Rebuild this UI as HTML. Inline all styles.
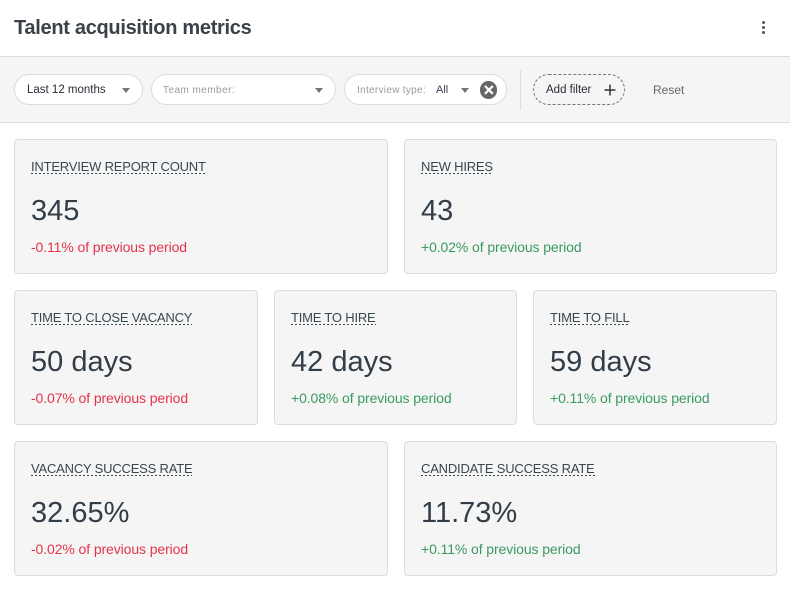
<!DOCTYPE html>
<html><head><meta charset="utf-8">
<style>
*{margin:0;padding:0;box-sizing:border-box}
html,body{width:790px;height:591px;background:#fff;overflow:hidden;font-family:"Liberation Sans",Arial,sans-serif}
.abs{position:absolute}
.hdr{position:absolute;left:0;top:0;width:790px;height:57px;background:#fff;border-bottom:1px solid #dcdcdc}
.title{position:absolute;left:14px;top:18px;font-size:20px;line-height:20px;font-weight:bold;color:#3a4149;letter-spacing:-0.3px;white-space:nowrap}
.dot{position:absolute;left:761.5px;width:3.5px;height:3.5px;border-radius:50%;background:#555}
.bar{position:absolute;left:0;top:57px;width:790px;height:66px;background:#f5f5f5;border-bottom:1px solid #dcdcdc}
.pill{position:absolute;top:74px;height:31px;border:1px solid #dcdcdc;border-radius:16px;background:#fff}
.ptxt{position:absolute;white-space:nowrap}
.caret{position:absolute;width:0;height:0;border-left:4.5px solid transparent;border-right:4.5px solid transparent;border-top:5px solid #757575}
.card{position:absolute;height:135px;background:#f5f5f5;border:1px solid #dcdcdc;border-radius:4px}
.lbl{position:absolute;left:16px;top:20px;font-size:13px;line-height:13px;color:#37474f;letter-spacing:-0.2px;white-space:nowrap}
.lbl span{display:inline-block;line-height:13px;padding-bottom:1px;background-image:linear-gradient(to right,#37474f 2px,transparent 2px);background-size:4px 1px;background-repeat:repeat-x;background-position:0 100%}
.val{position:absolute;left:16px;top:56.5px;font-size:29px;line-height:29px;color:#333d47;white-space:nowrap}
.chg{position:absolute;left:16px;top:100px;font-size:14px;line-height:14px;white-space:nowrap;letter-spacing:-0.1px}
.red{color:#e5334a}
.grn{color:#3a9a63}
</style></head><body>
<div class="hdr">
  <div class="title">Talent acquisition metrics</div>
  <div class="dot" style="top:20.5px"></div>
  <div class="dot" style="top:25.5px"></div>
  <div class="dot" style="top:30.5px"></div>
</div>
<div class="bar"></div>

<div class="pill" style="left:14px;width:129px"></div>
<div class="ptxt" style="left:27px;top:84.5px;font-size:11.5px;line-height:11.5px;color:#2b2b3a">Last 12 months</div>
<div class="caret" style="left:122px;top:88px"></div>

<div class="pill" style="left:151px;width:185px"></div>
<div class="ptxt" style="left:163px;top:85.5px;font-size:10px;line-height:10px;color:#9a9a9a;letter-spacing:0.45px">Team member:</div>
<div class="caret" style="left:315px;top:88px"></div>

<div class="pill" style="left:344px;width:163px"></div>
<div class="ptxt" style="left:357px;top:85.5px;font-size:10px;line-height:10px;color:#9a9a9a;letter-spacing:0.3px">Interview type:</div>
<div class="ptxt" style="left:436px;top:85px;font-size:11px;line-height:11px;color:#3a3f55">All</div>
<div class="caret" style="left:461px;top:88px"></div>
<div class="abs" style="left:479.5px;top:81px;width:17.5px;height:17.5px;border-radius:50%;background:#666"></div>
<svg class="abs" style="left:479.5px;top:81px" width="18" height="18" viewBox="0 0 18 18"><path d="M5.6 5.6 L12.2 12.2 M12.2 5.6 L5.6 12.2" stroke="#fff" stroke-width="2.2" stroke-linecap="round"/></svg>

<div class="abs" style="left:520px;top:70px;width:1px;height:40px;background:#dcdcdc"></div>

<div class="abs" style="left:533px;top:74px;width:92px;height:31px;border:1px dashed #777;border-radius:16px"></div>
<div class="ptxt" style="left:546px;top:84.5px;font-size:11.5px;line-height:11.5px;color:#2b2b3a">Add filter</div>
<svg class="abs" style="left:604px;top:84px" width="12" height="12" viewBox="0 0 12 12"><path d="M6 0.5V11.5M0.5 6H11.5" stroke="#333" stroke-width="1.5"/></svg>

<div class="ptxt" style="left:653px;top:84px;font-size:12px;line-height:12px;color:#666">Reset</div>

<!-- Row 1 -->
<div class="card" style="left:14px;top:139px;width:374px">
  <div class="lbl"><span>INTERVIEW REPORT COUNT</span></div>
  <div class="val">345</div>
  <div class="chg red">-0.11% of previous period</div>
</div>
<div class="card" style="left:404px;top:139px;width:373px">
  <div class="lbl"><span>NEW HIRES</span></div>
  <div class="val">43</div>
  <div class="chg grn">+0.02% of previous period</div>
</div>

<!-- Row 2 -->
<div class="card" style="left:14px;top:290px;width:244px">
  <div class="lbl"><span>TIME TO CLOSE VACANCY</span></div>
  <div class="val">50 days</div>
  <div class="chg red">-0.07% of previous period</div>
</div>
<div class="card" style="left:274px;top:290px;width:243px">
  <div class="lbl"><span>TIME TO HIRE</span></div>
  <div class="val">42 days</div>
  <div class="chg grn">+0.08% of previous period</div>
</div>
<div class="card" style="left:533px;top:290px;width:244px">
  <div class="lbl"><span>TIME TO FILL</span></div>
  <div class="val">59 days</div>
  <div class="chg grn">+0.11% of previous period</div>
</div>

<!-- Row 3 -->
<div class="card" style="left:14px;top:441px;width:374px">
  <div class="lbl"><span>VACANCY SUCCESS RATE</span></div>
  <div class="val">32.65%</div>
  <div class="chg red">-0.02% of previous period</div>
</div>
<div class="card" style="left:404px;top:441px;width:373px">
  <div class="lbl"><span>CANDIDATE SUCCESS RATE</span></div>
  <div class="val">11.73%</div>
  <div class="chg grn">+0.11% of previous period</div>
</div>
</body></html>
